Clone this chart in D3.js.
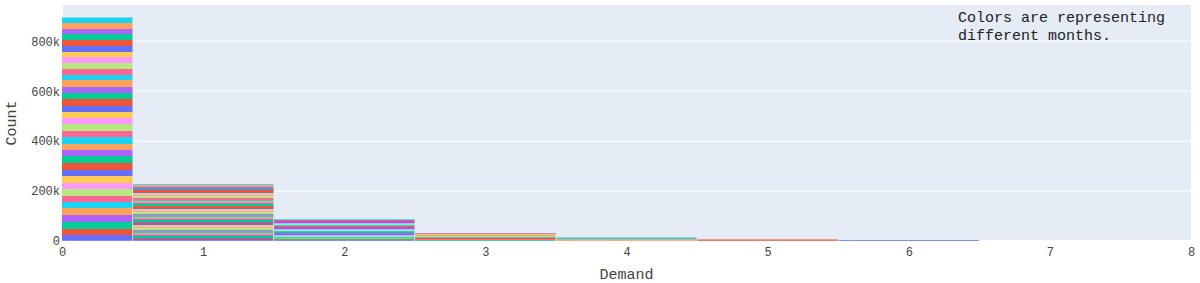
<!DOCTYPE html>
<html>
<head>
<meta charset="utf-8">
<script src="https://cdn.jsdelivr.net/npm/d3@7"></script>
<style>
  body { margin: 0; background: #fff; }
  svg { display: block; font-family: "Liberation Mono", "Courier New", monospace; }
</style>
</head>
<body>
<svg id="chart" width="1200" height="283"></svg>
<script>
// one stacked trace per month (36 months), one bar per demand bin
const months = [
  "2016-01","2016-02","2016-03","2016-04","2016-05","2016-06","2016-07","2016-08","2016-09","2016-10","2016-11","2016-12",
  "2017-01","2017-02","2017-03","2017-04","2017-05","2017-06","2017-07","2017-08","2017-09","2017-10","2017-11","2017-12",
  "2018-01","2018-02","2018-03","2018-04","2018-05","2018-06","2018-07","2018-08","2018-09","2018-10","2018-11","2018-12"
];
const demandBins = [0, 1, 2, 3, 4, 5, 6];

const demand0 = [23300, 26500, 25900, 28600, 25900, 26500, 24300, 27000, 25900, 25400, 25900, 25900,
                 27500, 24300, 25900, 26500, 24300, 27500, 25900, 24300, 24300, 27500, 24300, 24300,
                 25400, 22700, 21200, 24300, 24300, 22200, 24300, 22200, 24300, 22200, 23300, 21700];
const demand1 = [6100, 6600, 6300, 6900, 6400, 6200, 6000, 6500, 6700, 6300, 6400, 6100,
                 6800, 6200, 6500, 6600, 6000, 6700, 6400, 6200, 6100, 6900, 6300, 6200,
                 6500, 6000, 5900, 6400, 6300, 6100, 6500, 6200, 6600, 6000, 6400, 6200];
const demand2 = [2300, 2600, 2400, 2700, 2500, 2400, 2300, 2500, 2600, 2400, 2500, 2300,
                 2700, 2400, 2500, 2600, 2300, 2600, 2400, 2300, 2400, 2700, 2400, 2300,
                 2500, 2200, 2200, 2400, 2500, 2300, 2500, 2400, 2600, 2300, 2500, 2400];
const demand3 = [800, 1000, 900, 1100, 900, 900, 800, 1000, 900, 800, 900, 800,
                 1000, 900, 900, 1000, 800, 1000, 900, 800, 900, 1000, 900, 800,
                 900, 800, 800, 900, 900, 800, 900, 800, 1000, 800, 900, 900];
const demand4 = [400, 500, 300, 400, 600, 400, 300, 500, 400, 300, 400, 300,
                 500, 400, 400, 500, 300, 400, 400, 300, 400, 500, 400, 300,
                 400, 300, 300, 400, 400, 300, 400, 300, 500, 400, 600, 500];
const demand5 = [0, 7000, 0, 0, 0, 0, 0, 0, 0, 0, 0, 0,
                 0, 0, 0, 0, 0, 0, 0, 0, 0, 0, 0, 0,
                 0, 0, 0, 0, 0, 0, 0, 0, 0, 0, 0, 0];
const demand6 = [5000, 0, 0, 0, 0, 0, 0, 0, 0, 0, 0, 0,
                 0, 0, 0, 0, 0, 0, 0, 0, 0, 0, 0, 0,
                 0, 0, 0, 0, 0, 0, 0, 0, 0, 0, 0, 0];

const xTicks = [0, 1, 2, 3, 4, 5, 6, 7, 8];
const yTicks = [0, 200000, 400000, 600000, 800000];

const palette = ["#636efa", "#EF553B", "#00cc96", "#ab63fa", "#FFA15A",
                 "#19d3f3", "#FF6692", "#B6E880", "#FF97FF", "#FECB52"];

const perBin = [demand0, demand1, demand2, demand3, demand4, demand5, demand6];
const table = demandBins.map((b, i) => {
  const row = { bin: b };
  months.forEach((m, j) => { row[m] = perBin[i][j]; });
  return row;
});

const margin = { top: 5, right: 9, bottom: 42, left: 62 };
const width = 1200 - margin.left - margin.right;
const height = 283 - margin.top - margin.bottom;

const svg = d3.select("#chart");

svg.append("defs").append("clipPath")
    .attr("id", "plot-clip")
  .append("rect")
    .attr("width", width)
    .attr("height", height);

const g = svg.append("g")
  .attr("transform", `translate(${margin.left}, ${margin.top})`);

g.append("rect")
  .attr("width", width)
  .attr("height", height)
  .attr("fill", "#E5ECF6");

let x = d3.scaleLinear()
  .domain([0, 8])
  .range([0, width]);
let y = d3.scaleLinear()
  .domain([0, 945000])
  .range([height, 0]);

// horizontal grid
g.selectAll(".grid-y")
  .data(yTicks.slice(1))
  .enter().append("line")
    .attr("x1", 0)
    .attr("x2", width)
    .attr("y1", d => y(d))
    .attr("y2", d => y(d))
    .attr("stroke", "#fff")
    .attr("stroke-width", 1);

// zero lines (below the bars)
g.append("line")
  .attr("x1", 0).attr("x2", width)
  .attr("y1", y(0)).attr("y2", y(0))
  .attr("stroke", "#fff").attr("stroke-width", 2);
g.append("line")
  .attr("x1", x(0)).attr("x2", x(0))
  .attr("y1", 0).attr("y2", height)
  .attr("stroke", "#fff").attr("stroke-width", 2);

// stacked bars
const series = d3.stack().keys(months)(table);

const bars = g.append("g")
  .attr("clip-path", "url(#plot-clip)")
  .attr("shape-rendering", "crispEdges");

series.forEach((s, i) => {
  bars.append("g")
    .attr("fill", palette[i % palette.length])
    .selectAll("rect")
    .data(s.filter(d => d[1] > d[0]))
    .enter().append("rect")
      .attr("x", d => x(d.data.bin - 0.5))
      .attr("width", d => x(d.data.bin + 0.5) - x(d.data.bin - 0.5))
      .attr("y", d => y(d[1]))
      .attr("height", d => y(d[0]) - y(d[1]));
});

// thin light edge on each full bar
bars.selectAll(".bar-edge")
  .data(series[series.length - 1].filter(d => d[1] > 0))
  .enter().append("rect")
    .attr("x", d => x(d.data.bin - 0.5))
    .attr("width", d => x(d.data.bin + 0.5) - x(d.data.bin - 0.5))
    .attr("y", d => y(d[1]))
    .attr("height", d => y(0) - y(d[1]))
    .attr("fill", "none")
    .attr("stroke", "#E5ECF6")
    .attr("stroke-width", 0.5)
    .attr("shape-rendering", "auto");

// axes
const xAxis = g.append("g")
  .attr("transform", `translate(0, ${height})`)
  .call(d3.axisBottom(x).tickValues(xTicks).tickFormat(d3.format("d")).tickSize(0).tickPadding(6));
const yAxis = g.append("g")
  .call(d3.axisLeft(y).tickValues(yTicks).tickFormat(d3.format("~s")).tickSize(0).tickPadding(2));

[xAxis, yAxis].forEach(a => {
  a.select(".domain").remove();
  a.selectAll("text")
    .attr("fill", "#444")
    .style("font-family", "'Liberation Mono', 'Courier New', monospace")
    .style("font-size", "12px");
});

// axis titles
svg.append("text")
  .attr("x", margin.left + width / 2)
  .attr("y", 279)
  .attr("text-anchor", "middle")
  .attr("fill", "#444")
  .style("font-size", "15px")
  .text("Demand");

svg.append("text")
  .attr("transform", `translate(16, ${margin.top + height / 2}) rotate(-90)`)
  .attr("text-anchor", "middle")
  .attr("fill", "#444")
  .style("font-size", "15px")
  .text("Count");

// note
const note = svg.append("text")
  .attr("fill", "#222")
  .style("font-size", "15px");
note.append("tspan").attr("x", 958).attr("y", 22).text("Colors are representing");
note.append("tspan").attr("x", 958).attr("y", 40).text("different months.");
</script>
</body>
</html>
